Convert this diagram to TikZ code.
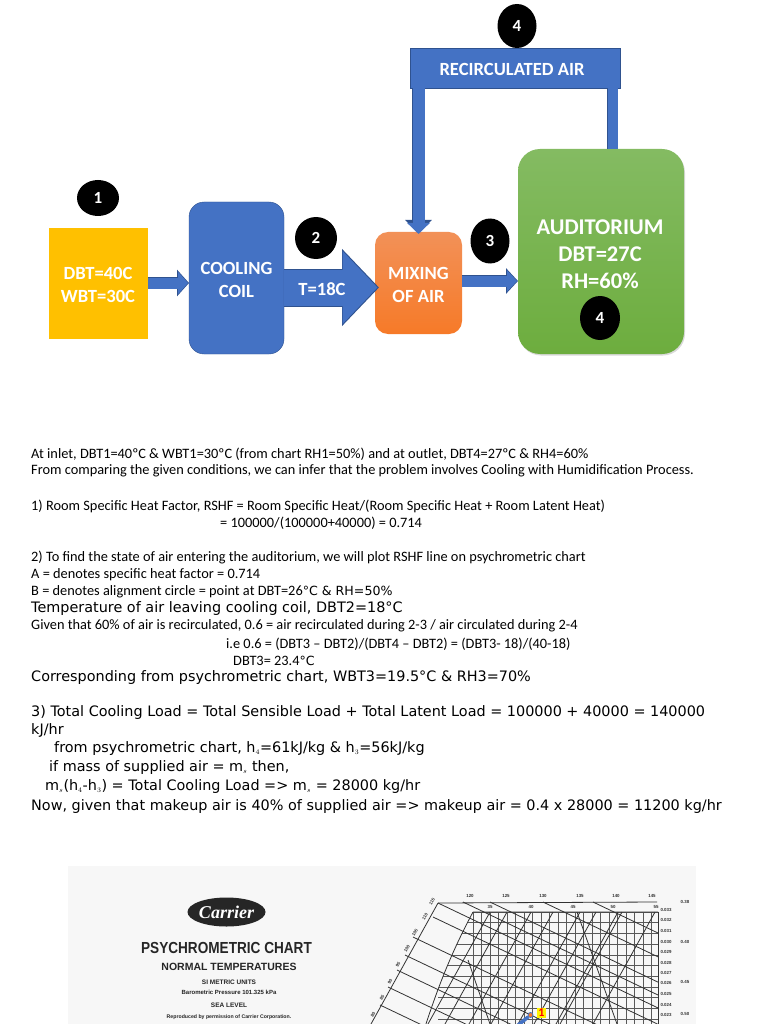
\documentclass[tikz,border=0pt]{standalone}
\usepackage{fontspec}
\setmainfont{Carlito}
\newfontfamily\dejavu{DejaVu Sans}
\newfontfamily\chartfont{Liberation Sans}
\newfontfamily\brandfont{Liberation Serif}
\usetikzlibrary{arrows.meta, shapes.geometric, shadows}
\definecolor{pipeblue}{HTML}{4472C4}
\definecolor{pipeedge}{HTML}{2F528F}
\definecolor{inletyellow}{HTML}{FFC000}
\definecolor{mixtop}{HTML}{F29158}
\definecolor{mixbottom}{HTML}{F67A28}
\definecolor{roomtop}{HTML}{84BB62}
\definecolor{roombottom}{HTML}{6DAD3E}
\tikzset{
  bubble/.style={ellipse, fill=black, text=white, font=\bfseries\fontsize{17}{17}\selectfont, inner sep=0pt},
  boxlabel/.style={text=white, align=center, font=\bfseries\fontsize{18.6}{23}\selectfont, inner sep=0pt},
  pipeunder/.style={pipeedge, line width=#1},
  calm/.style={anchor=west, inner sep=0pt, font=\fontsize{14.35}{14}\selectfont},
  wide/.style={anchor=west, inner sep=0pt, font=\dejavu\fontsize{14.4}{14}\selectfont},
  chartgrid/.style={black!65, line width=0.55pt},
  chartline/.style={black!80, line width=0.8pt},
  charttiny/.style={font=\chartfont\bfseries\fontsize{4.4}{4}\selectfont, text=black!80, inner sep=0pt},
  charttitle/.style={text=black!85, inner sep=0pt}
}

\begin{document}
\begin{tikzpicture}[x=1pt, y=-1pt, >=Stealth]
  \useasboundingbox (0,0) rectangle (768,1024);

  % --- blocks ---
  \node[fill=inletyellow, boxlabel, minimum width=99pt, minimum height=111pt] (inlet) at (98,283.5) {};
  \node[boxlabel] (inlettext) at (98,285) {DBT=40C\\WBT=30C};
  \node[fill=pipeblue, draw=pipeedge, rounded corners=15pt, minimum width=95pt, minimum height=152pt] (coil) at (236.5,278) {};
  \node[boxlabel] (coiltext) at (236.5,280) {COOLING\\COIL};
  \node[rounded corners=13pt, top color=mixtop, bottom color=mixbottom, minimum width=87pt, minimum height=102pt] (mix) at (418.5,283) {};
  \node[boxlabel] (mixtext) at (418.5,285) {MIXING\\OF AIR};
  \node[rounded corners=22pt, top color=roomtop, bottom color=roombottom, minimum width=166pt, minimum height=205pt, drop shadow={opacity=0.3, shadow xshift=1pt, shadow yshift=-1.5pt}] (room) at (601,251.5) {};
  \node[fill=pipeblue, draw=pipeedge, minimum width=210pt, minimum height=40pt] (recirc) at (515,68) {};
  \node[boxlabel] (recirctext) at (512,69) {RECIRCULATED AIR};

  % --- room text ---
  \node[boxlabel, font=\bfseries\fontsize{22.5}{27}\selectfont] (roomtext) at (600,254) {AUDITORIUM\\DBT=27C\\RH=60\%};

  % --- block arrows ---
  \coordinate (pipetop) at (418.5,88);
  \coordinate (pipedrop) at (418.5,233);
  \coordinate (returntop) at (612.5,88);
  \coordinate (returnfoot) at (612.5,149);
  \coordinate (inout) at (148,283);
  \coordinate (coilin) at (189,283);
  \coordinate (coilout) at (284,287.5);
  \coordinate (mixin) at (379,287.5);
  \coordinate (mixout) at (462,281);
  \coordinate (roomin) at (518,281);
  \draw[pipeunder=12.5pt, -{Triangle[length=12pt, width=26pt]}] (inout) -- (coilin);
  \draw[pipeblue, line width=11pt, -{Triangle[length=10pt, width=22pt]}] (inout) -- ([xshift=-1pt]coilin);
  \draw[pipeunder=38pt, -{Triangle[length=37pt, width=75pt]}] (coilout) -- (mixin);
  \draw[pipeblue, line width=36pt, -{Triangle[length=35pt, width=71pt]}] (coilout) -- ([xshift=-1.5pt]mixin);
  \draw[pipeunder=12.5pt, -{Triangle[length=12pt, width=25pt]}] (mixout) -- (roomin);
  \draw[pipeblue, line width=11pt, -{Triangle[length=10pt, width=21pt]}] (mixout) -- ([xshift=-1pt]roomin);
  \draw[pipeunder=13.5pt, -{Triangle[length=13pt, width=26pt]}] (pipetop) -- (pipedrop);
  \draw[pipeblue, line width=12pt, -{Triangle[length=11pt, width=22pt]}] (pipetop) -- ([yshift=-1pt]pipedrop);
  \draw[pipeunder=11.5pt] (returntop) -- (returnfoot);
  \draw[pipeblue, line width=10pt] (returntop) -- (returnfoot);
  \node[boxlabel] (arrowtext) at (322,289) {T=18C};

  % --- state points ---
  \node[bubble, minimum width=42pt, minimum height=36pt] (pointa) at (98,198) {1};
  \node[bubble, minimum width=42pt, minimum height=42pt] (pointb) at (316,238) {2};
  \node[bubble, minimum width=39pt, minimum height=45pt] (pointc) at (490,241) {3};
  \node[bubble, minimum width=39pt, minimum height=44pt] (pointd) at (517,26) {4};
  \node[bubble, minimum width=40pt, minimum height=44pt] (pointe) at (600,318) {4};

  % --- worked solution, line by line ---
  \node[calm] (ta) at (31,454) {At inlet, DBT1=40ºC \& WBT1=30ºC (from chart RH1=50\%) and at outlet, DBT4=27ºC \& RH4=60\%};
  \node[calm] (tb) at (31,471) {From comparing the given conditions, we can infer that the problem involves Cooling with Humidification Process.};
  \node[calm] (tc) at (31,506) {1) Room Specific Heat Factor, RSHF = Room Specific Heat/(Room Specific Heat + Room Latent Heat)};
  \node[calm] (td) at (220,523) {= 100000/(100000+40000) = 0.714};
  \node[calm] (te) at (31,557) {2) To find the state of air entering the auditorium, we will plot RSHF line on psychrometric chart};
  \node[calm] (tf) at (31,575) {A = denotes specific heat factor = 0.714};
  \node[calm] (tg) at (31,592) {B = denotes alignment circle = point at DBT=26{\dejavu\fontsize{12.6}{14}\selectfont °C \& RH=50\%}};
  \node[wide] (th) at (31,609) {Temperature of air leaving cooling coil, DBT2=18°C};
  \node[calm] (ti) at (31,626) {Given that 60\% of air is recirculated, 0.6 = air recirculated during 2-3 / air circulated during 2-4};
  \node[calm] (tj) at (226,644) {i.e 0.6 = (DBT3 – DBT2)/(DBT4 – DBT2) = (DBT3- 18)/(40-18)};
  \node[calm] (tk) at (233,661) {DBT3= 23.4{\dejavu\fontsize{12.6}{14}\selectfont °C}};
  \node[wide] (tl) at (31,678) {Corresponding from psychrometric chart, WBT3=19.5°C \& RH3=70\%};
  \node[wide] (tm) at (31,712.5) {3) Total Cooling Load = Total Sensible Load + Total Latent Load = 100000 + 40000 = 140000};
  \node[wide] (tn) at (31,730) {kJ/hr};
  \node[wide] (to) at (54,748.5) {from psychrometric chart, h$_{\scriptscriptstyle 4}$=61kJ/kg \& h$_{\scriptscriptstyle 3}$=56kJ/kg};
  \node[wide] (tp) at (49,767.5) {if mass of supplied air = m$_{\scriptscriptstyle s}$ then,};
  \node[wide] (tq) at (45,786.5) {m$_{\scriptscriptstyle s}$(h$_{\scriptscriptstyle 4}$-h$_{\scriptscriptstyle 3}$) = Total Cooling Load => m$_{\scriptscriptstyle s}$ = 28000 kg/hr};
  \node[wide] (tr) at (31,806.5) {Now, given that makeup air is 40\% of supplied air => makeup air = 0.4 x 28000 = 11200 kg/hr};

  % --- scanned chart ---
  \fill[black!3] (68,866) rectangle (696,1024);
  \node[ellipse, fill=black!85, text=white, minimum width=78pt, minimum height=29pt, inner sep=0pt, font=\brandfont\bfseries\itshape\fontsize{18}{18}\selectfont] (brand) at (226.5,912) {Carrier};
  \node[charttitle, font=\chartfont\bfseries\fontsize{16}{16}\selectfont, xscale=0.85] (titlea) at (226.5,948) {PSYCHROMETRIC CHART};
  \node[charttitle, font=\chartfont\bfseries\fontsize{10.5}{10}\selectfont] (titleb) at (229,967) {NORMAL TEMPERATURES};
  \node[charttitle, font=\chartfont\bfseries\fontsize{6.5}{6}\selectfont] (titlec) at (229,982) {SI METRIC UNITS};
  \node[charttitle, font=\chartfont\bfseries\fontsize{6}{6}\selectfont] (titled) at (229,992) {Barometric Pressure 101.325 kPa};
  \node[charttitle, font=\chartfont\bfseries\fontsize{6.5}{6}\selectfont] (titlee) at (229,1005) {SEA LEVEL};
  \node[charttitle, font=\chartfont\bfseries\fontsize{5.2}{5}\selectfont] (titlef) at (229,1017) {Reproduced by permission of Carrier Corporation.};

  \begin{scope}
    \clip (360,890) rectangle (658,1024);
    % grid of the chart
    \foreach \gx in {473,481.5,...,658}
      \draw[chartgrid] (\gx,912) -- (\gx,1024);
    \foreach \gy in {912,922.7,...,1024}
      \draw[chartgrid] (438,\gy) -- (658,\gy);
    \fill[black!3] (473,911) .. controls (450,955) and (437,990) .. (424,1030) -- (360,1030) -- (360,890) -- (473,890) -- cycle;
    \draw[chartline] (438,903) -- (657,902) (473,912) -- (658,912);
    \draw[chartline] (473,912) .. controls (450,955) and (437,990) .. (424,1030);
    \draw[chartline] (438,903) -- (371,1024);
    % steep lines
    \foreach \tx in {490,507,531,553,580,596,618,622,655}
      \draw[chartline] (\tx,912) -- ++(-62,112);
    % falling lines
    \foreach \sx/\sy in {438/903,463/902,490/902,543/902,593/902,433/917,413/937,405/955,397/970,388/987,380/1005}
      \draw[chartline] (\sx,\sy) -- ++(260,124);
    \draw[chartline] (577,912) -- (617,1024) (468,960) -- (490,1024);
  \end{scope}
  \draw[chartline] (658,912) -- (658,1024);

  \foreach \lx/\lab in {470/120,506/125,543/130,580/135,616/140,652/145}
    \node[charttiny] (top\lab) at (\lx,896) {\lab};
  \foreach \lx/\lab in {490/35,531/40,573/45,613/50,656/55}
    \node[charttiny] (mid\lab) at (\lx,907) {\lab};
  \foreach \ly/\lab in {910/0.033,920/0.032,931/0.031,942/0.030,952/0.029,963/0.028,973/0.027,983/0.026,994/0.025,1005/0.024,1015/0.023}
    \node[charttiny] (hum\ly) at (666,\ly) {\lab};
  \foreach \ly/\lab in {902/0.38,942/0.40,982/0.45,1014/0.50}
    \node[charttiny] (vol\ly) at (685,\ly) {\lab};
  \foreach \lx/\ly/\lab in {432/902/115,425/917/110,415/933/105,407/949/100,398/965/95,390/982/90,382/998/85,373/1015/80}
    \node[charttiny, rotate=60] (edge\lab) at (\lx,\ly) {\lab};

  % --- marked process line ---
  \coordinate (lineend) at (517,1026);
  \node[circle, fill=mixbottom, draw=pipeblue, line width=0.8pt, minimum size=5pt, inner sep=0pt] (markdot) at (530.5,1015) {};
  \draw[pipeblue, line width=3.5pt] (markdot) -- (lineend);
  \node[fill=yellow, text=red, inner sep=1pt, font=\bfseries\fontsize{12}{12}\selectfont] (marklabel) at (541.5,1013) {1};
\end{tikzpicture}
\end{document}
